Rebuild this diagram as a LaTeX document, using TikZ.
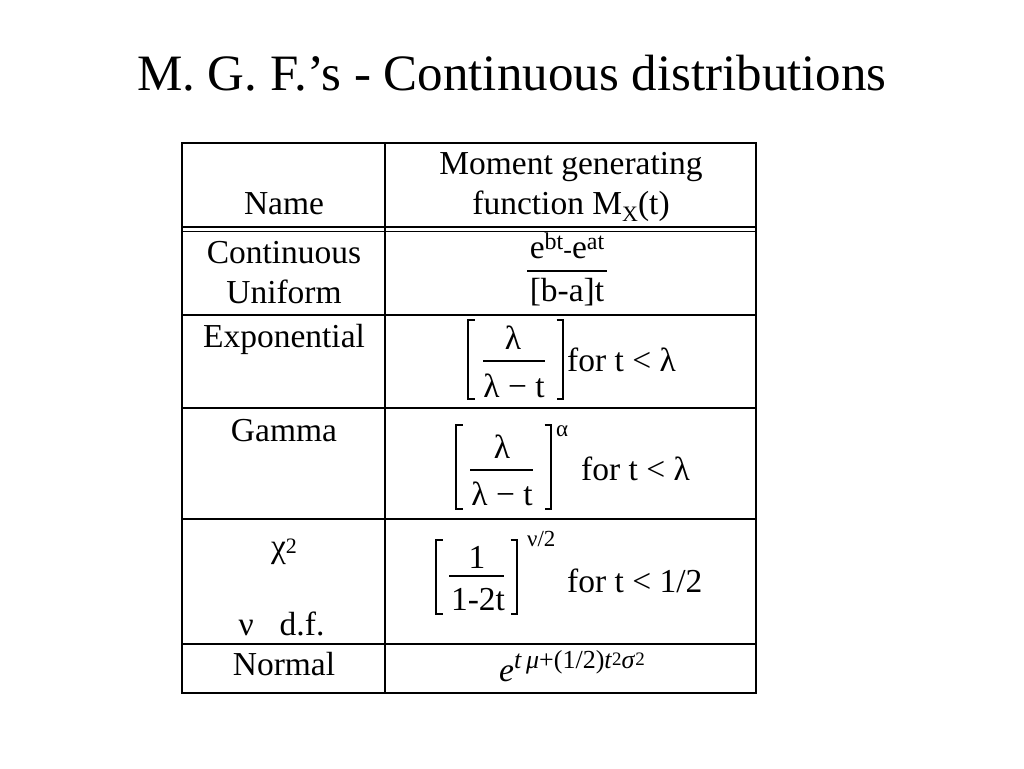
\documentclass[tikz,border=0pt]{standalone}
\usepackage{fontspec}
\setmainfont{Liberation Serif}
\newcommand\mysup[1]{\raisebox{9pt}{\fontsize{24}{24}\selectfont #1}}
\newcommand\mysub[1]{\raisebox{-0.22em}{\fontsize{22}{22}\selectfont #1}}
\begin{document}
\begin{tikzpicture}[x=1pt,y=-1pt,
  txt/.style={inner sep=0pt, anchor=base, font=\fontsize{33.5}{40}\selectfont},
  txtw/.style={inner sep=0pt, anchor=base west, font=\fontsize{33.5}{40}\selectfont},
  smallw/.style={inner sep=0pt, anchor=base west, font=\fontsize{23}{23}\selectfont},
  gridline/.style={line width=2.2pt},
  dblline/.style={line width=1.5pt},
  brk/.style={line width=1.4pt},
  fracbar/.style={line width=2pt}]
\useasboundingbox (0,0) rectangle (1024,768);
% title
\node[inner sep=0pt, anchor=base, font=\fontsize{51}{60}\selectfont] (title) at (512,90) {M. G. F.’s - Continuous distributions};
% table grid
\draw[gridline] (182,143) rectangle (756,693);
\draw[gridline] (385,143) -- (385,693);
\draw[dblline] (182,227) -- (756,227);
\draw[dblline] (182,231.5) -- (756,231.5);
\draw[gridline] (182,315) -- (756,315);
\draw[gridline] (182,408) -- (756,408);
\draw[gridline] (182,519) -- (756,519);
\draw[gridline] (182,644) -- (756,644);
% header
\node[txt] (hname) at (284,214) {Name};
\node[txt] (hmgf1) at (571,174) {Moment generating};
\node[txt] (hmgf2) at (571,214) {function M\mysub{X}(t)};
% uniform
\node[txt] (n1a) at (284,263) {Continuous};
\node[txt] (n1b) at (284,303) {Uniform};
\node[txt] (f1n) at (567,258) {e\mysup{bt}{\fontsize{26}{26}\selectfont -}e\mysup{at}};
\draw[fracbar] (527,271) -- (607,271);
\node[txt] (f1d) at (567,301) {[b-a]t};
% exponential
\node[txt] (n2) at (284,347) {Exponential};
\draw[brk] (474.5,320) -- (468,320) -- (468,399) -- (474.5,399);
\draw[brk] (556.5,320) -- (563,320) -- (563,399) -- (556.5,399);
\node[txt] (f2n) at (513,349) {λ};
\draw[fracbar] (483,361) -- (545,361);
\node[txt] (f2d) at (514,397) {λ − t};
\node[txtw] (f2c) at (567,371) {for t < λ};
% gamma
\node[txt] (n3) at (284,441) {Gamma};
\draw[brk] (462.5,425) -- (456,425) -- (456,509) -- (462.5,509);
\draw[brk] (544.5,425) -- (551,425) -- (551,509) -- (544.5,509);
\node[txt] (f3n) at (502,458) {λ};
\draw[fracbar] (470,470) -- (533,470);
\node[txt] (f3d) at (502,505) {λ − t};
\node[smallw] (f3e) at (556,436) {α};
\node[txtw] (f3c) at (581,480) {for t < λ};
% chi-square
\node[txt] (n4a) at (284,557) {χ\raisebox{4pt}{\fontsize{22}{22}\selectfont 2}};
\node[txt] (n4b) at (281.5,635) {ν\hspace{26pt}d.f.};
\draw[brk] (442.5,540) -- (436,540) -- (436,614) -- (442.5,614);
\draw[brk] (510.5,540) -- (517,540) -- (517,614) -- (510.5,614);
\node[txt] (f4n) at (477,568) {1};
\draw[fracbar] (449,576) -- (504,576);
\node[txt] (f4d) at (478,610) {1-2t};
\node[smallw] (f4e) at (527,546) {ν/2};
\node[txtw] (f4c) at (567,592) {for t < 1/2};
% normal
\node[txt] (n5) at (284,675) {Normal};
\node[inner sep=0pt, anchor=base west, font=\fontsize{33.5}{40}\selectfont] (f5) at (499,681)
  {\textit{e}\raisebox{13pt}{\fontsize{26}{26}\selectfont\textit{t}\,\textit{μ}+(1/2)\textit{t}\raisebox{3pt}{\fontsize{19}{19}\selectfont 2}\textit{σ}\raisebox{3pt}{\fontsize{19}{19}\selectfont 2}}};
\end{tikzpicture}
\end{document}
